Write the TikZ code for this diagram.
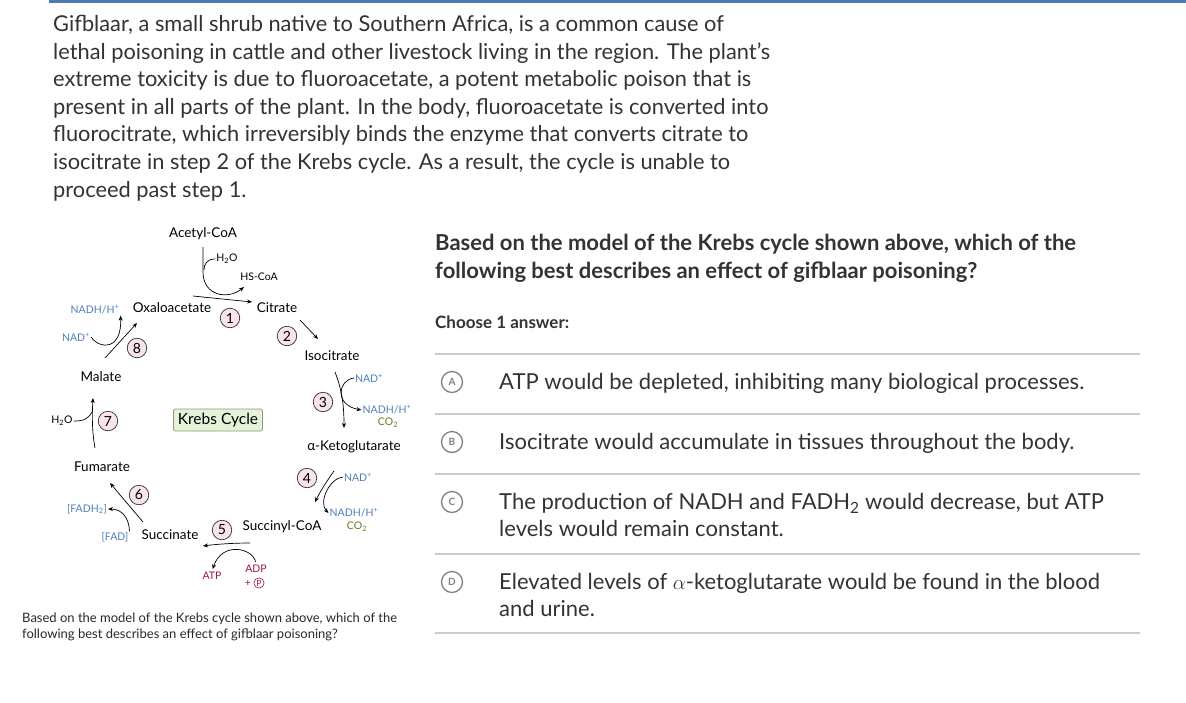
\documentclass[tikz,border=0pt]{standalone}
\usepackage{fontspec}
\setmainfont{Lato}
\usetikzlibrary{arrows.meta}
\definecolor{txtgray}{HTML}{333333}
\definecolor{topblue}{HTML}{4D7AB3}
\definecolor{nadblue}{HTML}{4F80B8}
\definecolor{coolive}{HTML}{6B7A26}
\definecolor{atpred}{HTML}{A3173F}
\definecolor{steppink}{HTML}{F8E4EA}
\definecolor{boxgreen}{HTML}{E6F2D8}
\definecolor{boxedge}{HTML}{8A9A7A}
\definecolor{rulegray}{HTML}{CCCCCC}

\begin{document}
\begin{tikzpicture}[x=1pt, y=-1pt,
  mol/.style={font=\fontsize{13.5}{15}\selectfont, text=black, inner sep=1pt},
  cof/.style={font=\fontsize{10.5}{12}\selectfont, text=nadblue, inner sep=1pt},
  stepnum/.style={circle, draw=black!80, fill=steppink, line width=0.7pt, inner sep=0pt, minimum size=19.5pt, font=\fontsize{14}{15}\selectfont},
  rxn/.style={-{Stealth[length=5pt,width=4pt]}, line width=0.7pt},
  side/.style={line width=0.7pt},
  choice/.style={circle, draw=gray, line width=1.3pt, minimum size=21pt, inner sep=0pt, font=\fontsize{10}{11}\selectfont\bfseries, text=gray},
  ans/.style={anchor=base west, font=\fontsize{22}{27}\selectfont, text=txtgray, inner sep=0pt},
  ]
\useasboundingbox (0,0) rectangle (1186,702);
\fill[white] (0,0) rectangle (1186,702);
\fill[topblue] (49,0) rectangle (1186,3);

% story text
\node[anchor=base west, inner sep=0pt, align=left, text=txtgray,
      font=\fontsize{21.8}{27.6}\selectfont] (story) at (53,197)
  {Gifblaar, a small shrub native to Southern Africa, is a common cause of\\
   lethal poisoning in cattle and other livestock living in the region. The plant's\\
   extreme toxicity is due to fluoroacetate, a potent metabolic poison that is\\
   present in all parts of the plant. In the body, fluoroacetate is converted into\\
   fluorocitrate, which irreversibly binds the enzyme that converts citrate to\\
   isocitrate in step 2 of the Krebs cycle. As a result, the cycle is unable to\\
   proceed past step 1.};

% cycle intermediates
\node[mol] (acoa) at (203,234) {Acetyl-CoA};
\node[mol] (oxa) at (172,308) {Oxaloacetate};
\node[mol] (cit) at (277,308) {Citrate};
\node[mol] (iso) at (332,356) {Isocitrate};
\node[mol] (akg) at (354,447) {α-Ketoglutarate};
\node[mol] (sccoa) at (282,527) {Succinyl-CoA};
\node[mol] (succ) at (170,535) {Succinate};
\node[mol] (fum) at (102,467) {Fumarate};
\node[mol] (mal) at (101,377) {Malate};
\node[draw=boxedge, fill=boxgreen, rounded corners=2pt, line width=0.7pt,
      minimum width=89pt, minimum height=22pt, inner sep=2pt,
      font=\fontsize{15.5}{17}\selectfont] (krebs) at (218,420) {Krebs Cycle};

% step numbers
\node[stepnum] (s1) at (230,318) {1};
\node[stepnum] (s2) at (287,336) {2};
\node[stepnum] (s3) at (323,402) {3};
\node[stepnum] (s4) at (307,478) {4};
\node[stepnum] (s5) at (222,530) {5};
\node[stepnum] (s6) at (139,495) {6};
\node[stepnum] (s7) at (108,421) {7};
\node[stepnum] (s8) at (137,348) {8};

% side products
\node[cof, text=black] (h2oa) at (227,259) {H\textsubscript{2}O};
\node[cof, text=black] (hscoa) at (259,277) {HS-CoA};
\node[cof] (nad3) at (369,378) {NAD\textsuperscript{+}};
\node[cof] (nadh3) at (387,410) {NADH/H\textsuperscript{+}};
\node[cof, text=coolive] (co3) at (388,423) {CO\textsubscript{2}};
\node[cof] (nad4) at (358,477) {NAD\textsuperscript{+}};
\node[cof] (nadh4) at (354,513) {NADH/H\textsuperscript{+}};
\node[cof, text=coolive] (co4) at (357,527) {CO\textsubscript{2}};
\node[cof, text=atpred] (atp) at (212,576) {ATP};
\node[cof, text=atpred] (adp) at (256,569) {ADP};
\node[cof, text=atpred] (plus) at (248,583) {+};
\node[circle, draw=atpred, line width=0.6pt, inner sep=0.8pt, text=atpred,
      font=\fontsize{8.5}{9}\selectfont] (pi) at (259,583) {P};
\node[cof] (fadh) at (87,509) {[FADH\textsubscript{2}]};
\node[cof] (fad) at (115,537) {[FAD]};
\node[cof, text=black] (h2ob) at (62,421) {H\textsubscript{2}O};
\node[cof] (nadh8) at (95,310) {NADH/H\textsuperscript{+}};
\node[cof] (nad8) at (76,337) {NAD\textsuperscript{+}};

% reaction arrows
\coordinate (r1a) at (193,296); \coordinate (r1b) at (252,302);
\draw[rxn] (r1a) -- (r1b);
\coordinate (ac) at (203,247);
\draw[rxn] (ac) -- (203,272) .. controls (203,296) and (228,300) .. (244,287);
\draw[side] (h2oa.west) .. controls (207,259) and (204,264) .. (204,270);
\coordinate (r2a) at (300,320); \coordinate (r2b) at (318,339);
\draw[rxn] (r2a) -- (r2b);
\coordinate (r3a) at (335,372); \coordinate (r3b) at (344,428);
\draw[rxn] (r3a) .. controls (342,390) and (344,405) .. (r3b);
\draw[rxn] (nad3.west) .. controls (338,380) and (334,405) .. (nadh3.west);
\coordinate (r4a) at (334,471); \coordinate (r4b) at (315,502);
\draw[rxn] (r4a) .. controls (326,482) and (320,492) .. (r4b);
\draw[rxn] (nad4.west) .. controls (330,478) and (318,502) .. (nadh4.west);
\coordinate (r5a) at (250,543); \coordinate (r5b) at (203,546);
\draw[rxn] (r5a) .. controls (235,543) and (218,544) .. (r5b);
\draw[rxn, shorten <=2pt, shorten >=2pt] (adp.north) .. controls (253,548) and (222,541) .. (atp.north);
\coordinate (r6a) at (143,522); \coordinate (r6b) at (110,483);
\draw[rxn] (r6a) -- (r6b);
\draw[rxn] (fad.north east) .. controls (129,518) and (122,509) .. (fadh.east);
\coordinate (r7a) at (95,448); \coordinate (r7b) at (93,398);
\draw[rxn] (r7a) .. controls (92,432) and (92,415) .. (r7b);
\draw[side] (h2ob.east) .. controls (84,421) and (88,419) .. (92,412);
\coordinate (r8a) at (105,358); \coordinate (r8b) at (137,323);
\draw[rxn] (r8a) -- (r8b);
\draw[rxn] (nad8.east) .. controls (100,350) and (122,350) .. (nadh8.south east);

% question under the diagram
\node[anchor=base west, inner sep=0pt, align=left, text=txtgray!80!black,
      font=\fontsize{13}{16}\selectfont\mdseries] (qsmall) at (22,638)
  {Based on the model of the Krebs cycle shown above, which of the\\
   following best describes an effect of gifblaar poisoning?};

% question and answers
\node[anchor=base west, inner sep=0pt, align=left, text=txtgray,
      font=\fontsize{22}{28}\selectfont\bfseries] (qbig) at (435,278)
  {Based on the model of the Krebs cycle shown above, which of the\\
   following best describes an effect of gifblaar poisoning?};
\node[anchor=base west, inner sep=0pt, text=txtgray,
      font=\fontsize{17}{20}\selectfont\bfseries] (choose) at (435,328) {Choose 1 answer:};

\foreach \yy in {354,414,474,554,633}
  \draw[rulegray, line width=1.3pt] (435,\yy) -- (1140,\yy);

\node[choice] (ca) at (452,382) {A};
\node[choice] (cb) at (452,442) {B};
\node[choice] (cc) at (452,502) {C};
\node[choice] (cd) at (452,582) {D};

\node[ans] (ta) at (499,389) {ATP would be depleted, inhibiting many biological processes.};
\node[ans] (tb) at (499,449) {Isocitrate would accumulate in tissues throughout the body.};
\node[ans, align=left] (tc) at (499,536)
  {The production of NADH and FADH\textsubscript{2} would decrease, but ATP\\
   levels would remain constant.};
\node[ans, align=left] (td) at (499,616)
  {Elevated levels of $\alpha$-ketoglutarate would be found in the blood\\
   and urine.};
\end{tikzpicture}
\end{document}
